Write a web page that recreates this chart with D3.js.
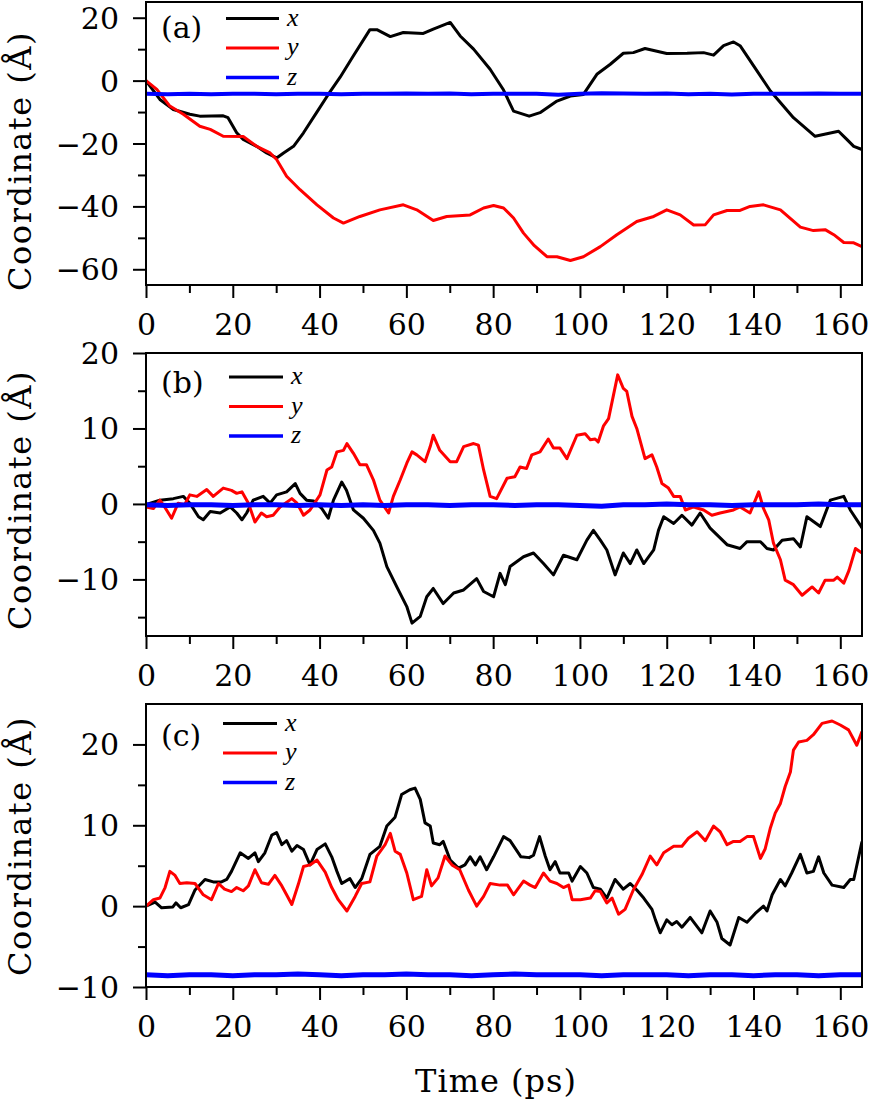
<!DOCTYPE html>
<html>
<head>
<meta charset="utf-8">
<script src="https://cdn.jsdelivr.net/npm/d3@7"></script>
<style>
  body { margin: 0; background: #fff; }
</style>
</head>
<body>
<script>
// time axis
var timeDomain = [0, 165];
var timeMajor = [0, 20, 40, 60, 80, 100, 120, 140, 160];
var timeMinor = [10, 30, 50, 70, 90, 110, 130, 150];

// panel (a)  [time (ps), coordinate (A)]
var aX = [[0,0],[3.2,-6],[6.3,-9.2],[10.1,-10.7],[12.4,-11.3],[17.8,-11.2],[18.9,-11.8],[20.9,-16.6],[22.4,-18.7],[25.5,-20.9],[27.8,-23],[30.1,-24.6],[31.7,-23],[34,-20.9],[36.3,-16.6],[39.3,-10.2],[42,-4.4],[44.7,1],[47.8,7.9],[51.6,16.2],[53.2,16.2],[56.3,14],[59.3,15.3],[63.9,15],[66.2,16.4],[70.1,18.5],[72.4,14.2],[75.5,10],[79.3,3.6],[82.4,-3],[84.7,-9.7],[88.3,-11.3],[90.8,-10.2],[94.7,-6.5],[97.8,-4.9],[100.8,-4.4],[103.9,2],[107,5.2],[110,8.7],[112.3,8.9],[115,10.2],[120,8.6],[124.7,8.7],[128.5,8.9],[130.8,8.1],[133.1,11.1],[135.4,12.3],[136.9,11.1],[140.8,3.1],[143.9,-3.3],[149.2,-11.8],[154.2,-17.7],[159.6,-16.1],[161.5,-18.7],[163.1,-20.9],[165,-21.9]];
var aY = [[0,0],[2.5,-2.8],[5.5,-8.1],[8.6,-10.7],[12.4,-14.5],[14.8,-15.5],[17.8,-17.7],[22.4,-17.8],[25.5,-20.9],[28.6,-23],[30.1,-25.1],[32.4,-30.4],[35.5,-34.7],[39.4,-39.5],[43.2,-43.7],[45.5,-45.3],[49.3,-43.2],[53.9,-41.1],[59.3,-39.5],[62.4,-41.1],[66.2,-44.5],[69.3,-43.2],[74.7,-42.7],[77.8,-40.5],[80.1,-39.7],[82.4,-40.5],[84.7,-43.7],[87,-48.5],[89.5,-52.5],[92.4,-56],[94.7,-56],[97.8,-57.2],[100.8,-56],[104.7,-52.8],[108.5,-49],[113.1,-44.8],[117,-43.2],[120,-41.1],[123.1,-42.7],[126.2,-45.9],[128.9,-45.8],[130.8,-42.7],[133.9,-41.3],[136.9,-41.3],[139.2,-40],[142.3,-39.5],[146.2,-41.1],[150.8,-46.6],[153.8,-47.7],[156.5,-47.4],[158.5,-49],[160.8,-51.5],[163.1,-51.6],[165,-52.8]];
var aZ = [[0,-4.2],[5,-4.3],[10,-4.2],[15,-4.3],[20,-4.2],[25,-4.2],[30,-4.3],[35,-4.2],[40,-4.2],[45,-4.3],[50,-4.2],[55,-4.2],[60,-4.1],[65,-4.2],[70,-4.1],[75,-4.3],[80,-4.2],[85,-4.2],[90,-4.2],[95,-4.5],[100,-4.2],[105,-4.0],[110,-4.1],[115,-4.2],[120,-4.1],[125,-4.3],[130,-4.2],[135,-4.4],[140,-4.2],[145,-4.2],[150,-4.2],[155,-4.1],[160,-4.2],[165,-4.2]];
var aMajor = [20, 0, -20, -40, -60];
var aMinor = [10, -10, -30, -50];

// panel (b)
var bX = [[0,-0.1],[3.2,0.5],[6.3,0.7],[8.6,1.0],[10.1,0.1],[12.1,-1.7],[13.2,-2.1],[14.8,-1.0],[17.1,-1.2],[19.4,-0.4],[20.9,-1.2],[22.1,-2.1],[23.2,-1.2],[24.7,0.5],[27,1.0],[28.6,0.1],[30.1,1.2],[32.4,1.6],[34.4,2.7],[35.5,1.4],[37,0.5],[38.6,0.4],[40.5,-0.6],[42,-1.9],[43.2,0.5],[45.1,2.9],[46.2,1.8],[47.8,-0.8],[50.1,-1.9],[52.4,-3.5],[53.9,-5.2],[55.5,-8.3],[57.8,-11],[60.1,-13.6],[61.3,-15.8],[63.2,-14.9],[64.7,-12.3],[66.2,-11.2],[68.5,-13.2],[70.9,-11.8],[73.2,-11.4],[76.2,-9.9],[77.8,-11.6],[80.1,-12.3],[81.6,-9.2],[82.8,-10.7],[83.9,-8.3],[87,-7],[89.3,-6.5],[91.6,-7.9],[93.9,-9.4],[96.2,-6.8],[99.3,-7.4],[101.6,-4.8],[103.1,-3.5],[104.7,-4.8],[106.2,-6.1],[108.1,-9.4],[110,-6.5],[111.6,-7.9],[113.1,-6.1],[114.7,-7.9],[117,-6.1],[118.1,-3.5],[119.3,-1.7],[121.6,-2.6],[123.5,-1.5],[125.8,-2.8],[127.7,-1.2],[130,-3.2],[133.9,-5.4],[136.9,-5.9],[138.5,-5],[141.6,-5],[143.1,-5.9],[144.6,-6.1],[146.6,-4.8],[149.2,-4.6],[150.8,-5.7],[152.3,-1.7],[155.4,-3],[157.7,0.5],[160.8,1.0],[162.3,-0.8],[164.6,-2.8],[165,-3.2]];
var bY = [[0,-0.4],[1.7,-0.6],[3.2,0.5],[4.3,-0.4],[5.9,-1.9],[7.4,0.1],[8.9,-0.1],[10.1,1.2],[11.7,1.0],[14,1.9],[15.5,1.0],[17.8,2.1],[19.7,1.8],[20.9,1.4],[22.1,1.6],[23.6,0.1],[25.1,-2.4],[26.6,-1.2],[27.8,-1.7],[29.3,-1.5],[30.9,-0.4],[33.6,0.7],[34.8,0.1],[36.3,-1.5],[37.8,-0.8],[40.1,1.2],[41.7,4.5],[42.8,4.9],[44,6.9],[45.5,7.1],[46.3,8.0],[47.8,6.7],[49.3,5.2],[50.8,5.2],[52.4,3.2],[53.9,0.5],[55.9,-1.2],[57,1.0],[58.6,3.2],[60.1,5.4],[61.3,6.9],[62.4,6.5],[64.3,5.6],[65.5,7.6],[66.2,9.1],[67.7,7.1],[70.1,5.6],[71.6,5.6],[73.2,7.6],[75.5,8.0],[76.6,7.8],[77.8,4.5],[79.3,1.0],[80.8,0.7],[83.2,3.4],[85,3.6],[86.2,4.9],[87.7,4.7],[88.9,6.5],[90.8,6.9],[92.7,8.6],[93.9,7.4],[95.4,7.4],[97,6.0],[99.3,9.1],[101.2,9.3],[102.4,8.5],[103.5,8.6],[104.2,8.2],[105.4,10.3],[106.6,11.3],[108.7,17.1],[110,15.3],[110.8,14.9],[112,11.6],[113.1,10],[115,6.0],[116.6,6.5],[117.7,4.9],[118.9,2.7],[120.4,2.1],[121.6,1.0],[123.1,1.0],[124.3,-0.8],[126.2,-0.4],[128.5,-0.8],[130.4,-1.5],[132.3,-1.2],[135.4,-0.8],[136.9,-0.4],[139.2,-1.2],[141.2,1.6],[142.3,-0.6],[143.5,-2.1],[144.6,-5.2],[146.2,-7.4],[147.3,-10.1],[149.2,-10.7],[151.2,-12.1],[153.5,-11],[155,-11.8],[156.5,-10.1],[158.5,-10.1],[159.3,-9.7],[160.8,-10.5],[162,-8.8],[163.5,-5.9],[165,-6.5]];
var bZ = [[0,-0.1],[5,-0.2],[10,-0.1],[15,-0.1],[20,-0.2],[25,-0.1],[30,-0.1],[35,-0.2],[40,-0.1],[45,-0.2],[50,-0.1],[55,-0.2],[60,-0.1],[65,-0.1],[70,-0.2],[75,-0.1],[80,-0.1],[85,-0.2],[90,-0.1],[95,-0.1],[100,-0.2],[105,-0.3],[110,-0.1],[115,-0.1],[120,0.0],[125,-0.1],[130,-0.1],[135,-0.2],[140,-0.1],[145,-0.1],[150,-0.1],[155,0.0],[160,-0.1],[165,-0.1]];
var bMajor = [20, 10, 0, -10];
var bMinor = [15, 5, -5, -15];

// panel (c)
var cX = [[0,0],[2.1,0.5],[3.6,-0.2],[6.2,-0.1],[6.9,0.4],[8,-0.2],[9.8,0.2],[11.3,2.0],[13.6,3.3],[15.5,3.0],[17.4,3.0],[18.6,3.3],[19.7,4.3],[21.7,6.6],[23.6,5.9],[25.1,6.6],[25.9,5.5],[27.4,6.6],[29,8.8],[30.1,9.1],[31.3,7.6],[32.4,8.1],[33.6,6.8],[34.8,7.5],[36.3,7.0],[37.8,5.1],[39.4,7.0],[41.3,7.7],[42.8,6.1],[44,4.3],[45.1,2.8],[47,3.4],[48.2,2.3],[49.7,3.4],[51.6,6.4],[53.9,7.4],[55.5,9.9],[57.4,11.0],[58.9,13.8],[60.8,14.4],[62,14.6],[63.2,13.2],[64.3,10.3],[65.5,9.9],[66.2,7.8],[67.7,7.6],[68.5,8.0],[70.1,5.7],[72,4.7],[73.5,5.1],[74.7,6.1],[75.9,5.1],[77,6.1],[78.5,4.5],[80.1,6.1],[82.4,8.6],[83.9,8.1],[86.4,6.1],[88.3,6.0],[89.3,6.3],[90.7,8.6],[92,6.2],[93.1,4.5],[94.3,5.5],[95.4,4.1],[97.4,4.1],[98.2,3.1],[100.1,4.9],[101.6,4.1],[103.1,2.3],[104.7,2.1],[106.2,1.0],[108.1,3.3],[110,2.1],[111.6,2.8],[113.1,2.0],[114.7,1.0],[116.6,-0.4],[117.4,-1.7],[118.5,-3.3],[120,-1.7],[121.2,-2.3],[122.3,-1.9],[123.5,-2.6],[125.4,-1.4],[128.1,-3.3],[130,-0.6],[131.6,-2.0],[132.7,-4.0],[134.6,-4.8],[136.6,-1.4],[138.5,-2.0],[140.4,-0.9],[142.3,0],[143.1,-0.6],[144.3,1.4],[146.2,3.3],[147.3,2.5],[148.8,4.1],[150.8,6.4],[152.3,4.1],[153.8,4.3],[155,6.1],[156.2,4.1],[158.1,2.6],[160.8,2.3],[162.3,3.3],[163.1,3.3],[165,8.0]];
var cY = [[0,0],[1.7,0.8],[3.2,1.0],[4.4,2.3],[5.5,4.3],[6.7,3.8],[7.8,2.8],[9.4,2.9],[11.3,2.8],[13.2,1.4],[15.1,0.8],[16.7,2.8],[18.1,2.1],[19.7,1.8],[20.9,2.3],[22.4,1.9],[23.6,2.5],[25.1,4.5],[26.6,2.9],[28.2,2.7],[29.7,3.8],[31.3,2.5],[32.4,1.4],[33.6,0.2],[35.1,2.7],[36.3,4.9],[37.8,5.1],[39.4,5.7],[41.3,4.2],[42.8,2.3],[44.3,0.8],[46.3,-0.6],[48.2,1.2],[49.7,2.8],[51.6,3.0],[53.2,6.2],[55.1,7.6],[56.3,9.0],[57.4,6.8],[58.6,6.4],[60.1,4.1],[61.6,0.8],[63.5,1.2],[64.7,4.5],[65.8,2.5],[67.3,3.5],[68.9,6.2],[70.5,5.1],[72.3,4.5],[74.3,2.0],[76.2,0],[77.8,1.2],[79.3,2.8],[81.6,2.6],[83.3,2.6],[84.7,1.4],[87,3.1],[88.5,2.6],[89.7,2.3],[91.6,4.1],[93.1,3.1],[94.7,2.8],[96.2,2.3],[97.4,2.6],[98.2,0.8],[100.1,0.8],[102.4,1.0],[103.5,1.9],[104.7,1.8],[106.2,0.4],[107.4,1.0],[108.9,-1.0],[110.4,-0.4],[112.3,2.0],[114.3,3.9],[116.2,6.2],[117.7,5.1],[119.3,6.6],[121.6,7.4],[123.5,7.4],[125,8.4],[127,9.2],[128.9,8.1],[130.8,9.9],[132.3,9.2],[133.9,7.6],[135.4,8.0],[136.9,8.0],[138.5,8.6],[140,8.6],[141.6,5.9],[142.7,7.1],[143.9,9.7],[145,11.5],[146.2,12.7],[147.3,14.8],[148.5,16.6],[149.2,19.3],[150.4,20.3],[152.3,20.5],[153.8,21.2],[155.8,22.6],[158.1,22.9],[160,22.4],[161.9,21.8],[163.8,19.9],[165,21.6]];
var cZ = [[0,-8.5],[5,-8.6],[10,-8.5],[15,-8.5],[20,-8.6],[25,-8.5],[30,-8.5],[35,-8.4],[40,-8.5],[45,-8.6],[50,-8.5],[55,-8.5],[60,-8.4],[65,-8.5],[70,-8.5],[75,-8.6],[80,-8.5],[85,-8.4],[90,-8.5],[95,-8.5],[100,-8.5],[105,-8.6],[110,-8.5],[115,-8.5],[120,-8.5],[125,-8.6],[130,-8.5],[135,-8.5],[140,-8.6],[145,-8.5],[150,-8.5],[155,-8.6],[160,-8.5],[165,-8.5]];
var cMajor = [20, 10, 0, -10];
var cMinor = [15, 5, -5];

var seriesNames = ['x', 'y', 'z'];
var seriesColors = ['#000000', '#ff0000', '#0000ff'];

var width = 872, height = 1101;
var left = 146, right = 862;

var svg = d3.select('body')
  .append('svg')
  .attr('width', width)
  .attr('height', height)
  .style('font-family', '"DejaVu Serif", serif');

var x = d3.scaleLinear().domain(timeDomain).range([left, right]);

function fmt(d) {
  return d < 0 ? '\u2212' + Math.abs(d) : String(d);
}

var panels = [
  { id: 'a', tag: '(a)', top: 2, bottom: 285, domain: [-65, 25], major: aMajor, minor: aMinor,
    data: [aX, aY, aZ], zWidth: 4, leg: { x1: 226, x2: 279, y0: 18.5, tagY: 38 }, labelY: 161 },
  { id: 'b', tag: '(b)', top: 353, bottom: 636, domain: [-17.5, 20], major: bMajor, minor: bMinor,
    data: [bX, bY, bZ], zWidth: 5, leg: { x1: 229, x2: 283, y0: 377, tagY: 393 }, labelY: 500 },
  { id: 'c', tag: '(c)', top: 704, bottom: 987, domain: [-10, 25], major: cMajor, minor: cMinor,
    data: [cX, cY, cZ], zWidth: 5, leg: { x1: 223, x2: 277, y0: 723.5, tagY: 746 }, labelY: 846 }
];

panels.forEach(function (p) {
  var y = d3.scaleLinear().domain(p.domain).range([p.bottom, p.top]);
  var g = svg.append('g');

  g.append('clipPath').attr('id', 'clip-' + p.id)
    .append('rect')
    .attr('x', left).attr('y', p.top)
    .attr('width', right - left).attr('height', p.bottom - p.top);

  var line = d3.line()
    .x(function (d) { return x(d[0]); })
    .y(function (d) { return y(d[1]); });

  var plot = g.append('g').attr('clip-path', 'url(#clip-' + p.id + ')');
  p.data.forEach(function (s, i) {
    plot.append('path')
      .datum(s)
      .attr('fill', 'none')
      .attr('stroke', seriesColors[i])
      .attr('stroke-width', i === 2 ? p.zWidth : 3)
      .attr('stroke-linejoin', 'round')
      .attr('d', line);
  });

  // frame
  g.append('rect')
    .attr('x', left).attr('y', p.top)
    .attr('width', right - left).attr('height', p.bottom - p.top)
    .attr('fill', 'none').attr('stroke', '#000').attr('stroke-width', 2);

  // x axis
  var xMaj = g.append('g').attr('transform', 'translate(0,' + p.bottom + ')')
    .call(d3.axisBottom(x).tickValues(timeMajor).tickSize(13).tickPadding(16).tickFormat(fmt));
  var xMin = g.append('g').attr('transform', 'translate(0,' + p.bottom + ')')
    .call(d3.axisBottom(x).tickValues(timeMinor).tickSize(8).tickFormat(''));

  // y axis
  var yMaj = g.append('g').attr('transform', 'translate(' + left + ',0)')
    .call(d3.axisLeft(y).tickValues(p.major).tickSize(13).tickPadding(14).tickFormat(fmt));
  var yMin = g.append('g').attr('transform', 'translate(' + left + ',0)')
    .call(d3.axisLeft(y).tickValues(p.minor).tickSize(8).tickFormat(''));

  [xMaj, xMin, yMaj, yMin].forEach(function (ax) {
    ax.select('.domain').remove();
    ax.selectAll('line').attr('stroke', '#000').attr('stroke-width', 2);
    ax.selectAll('text')
      .attr('fill', '#000')
      .style('font-family', '"DejaVu Serif", serif')
      .style('font-size', '30px');
  });
  xMaj.selectAll('text').attr('dy', '0.71em');
  yMaj.selectAll('text').attr('dy', '0.35em');

  // legend
  seriesNames.forEach(function (name, i) {
    var ly = p.leg.y0 + i * 29.5;
    g.append('line')
      .attr('x1', p.leg.x1).attr('x2', p.leg.x2)
      .attr('y1', ly).attr('y2', ly)
      .attr('stroke', seriesColors[i])
      .attr('stroke-width', i === 2 ? 3.5 : 3);
    g.append('text')
      .attr('x', p.leg.x2 + 8).attr('y', ly + 7)
      .style('font-family', '"Liberation Serif", serif')
      .style('font-size', '26px')
      .style('font-style', 'italic')
      .text(name);
  });

  g.append('text')
    .attr('x', 161).attr('y', p.leg.tagY)
    .style('font-size', '30px')
    .text(p.tag);

  // y label
  g.append('text')
    .attr('transform', 'translate(31,' + p.labelY + ') rotate(-90)')
    .attr('text-anchor', 'middle')
    .style('font-size', '32px')
    .style('letter-spacing', '1.5px')
    .text('Coordinate (\u00c5)');
});

svg.append('text')
  .attr('x', 496).attr('y', 1092)
  .attr('text-anchor', 'middle')
  .style('font-size', '32px')
  .style('letter-spacing', '1px')
  .text('Time (ps)');
</script>
</body>
</html>
